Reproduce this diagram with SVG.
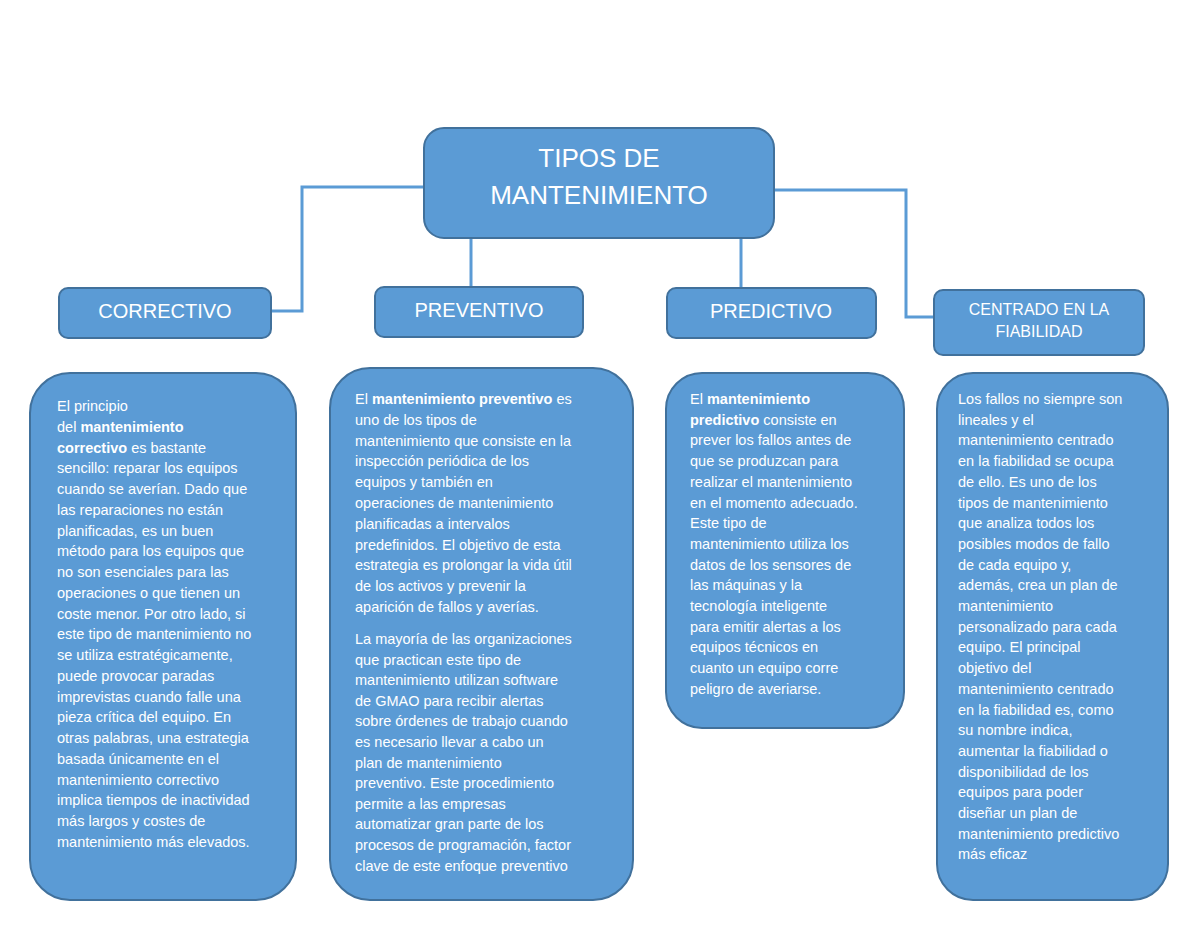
<svg xmlns="http://www.w3.org/2000/svg" width="1200" height="927" viewBox="0 0 1200 927">
<style>
.n{fill:#5B9BD5;stroke:#41719C;stroke-width:2}
.h{font-family:"Liberation Sans",Arial,sans-serif;fill:#fff;text-anchor:middle}
.t{font-family:"Liberation Sans",Arial,sans-serif;fill:#fff;font-size:14.5px}
.c{fill:none;stroke:#5B9BD5;stroke-width:3}
</style>
<rect width="1200" height="927" fill="#fff"/>
<g id="connectors">
<polyline class="c" points="424,187 302,187 302,311 271,311"/>
<line class="c" x1="471" y1="238" x2="471" y2="287"/>
<line class="c" x1="741" y1="238" x2="741" y2="288"/>
<polyline class="c" points="774,190 906,190 906,317 934,317"/>
</g>
<g id="root"><rect class="n" x="424" y="128" width="350" height="110" rx="20"/>
<text class="h" font-size="26" x="599" y="167">TIPOS DE</text><text class="h" font-size="26" x="599" y="204">MANTENIMIENTO</text></g>
<g id="correctivo"><rect class="n" x="59" y="288" width="212" height="50" rx="9"/><text class="h" font-size="20" x="165" y="318">CORRECTIVO</text></g>
<g id="preventivo"><rect class="n" x="375" y="287" width="208" height="50" rx="9"/><text class="h" font-size="20" x="479" y="317">PREVENTIVO</text></g>
<g id="predictivo"><rect class="n" x="667" y="288" width="209" height="50" rx="9"/><text class="h" font-size="20" x="771" y="318">PREDICTIVO</text></g>
<g id="centrado"><rect class="n" x="934" y="290" width="210" height="65" rx="9"/><text class="h" font-size="16" x="1039" y="315">CENTRADO EN LA</text><text class="h" font-size="16" x="1039" y="337">FIABILIDAD</text></g>
<g id="texto-correctivo"><rect class="n" x="30" y="373" width="266" height="527" rx="40"/>
<text class="t" x="57" y="411">
<tspan x="57" dy="0">El principio</tspan>
<tspan x="57" dy="20.75">del <tspan font-weight="bold">mantenimiento</tspan></tspan>
<tspan x="57" dy="20.75"><tspan font-weight="bold">correctivo</tspan> es bastante</tspan>
<tspan x="57" dy="20.75">sencillo: reparar los equipos</tspan>
<tspan x="57" dy="20.75">cuando se averían. Dado que</tspan>
<tspan x="57" dy="20.75">las reparaciones no están</tspan>
<tspan x="57" dy="20.75">planificadas, es un buen</tspan>
<tspan x="57" dy="20.75">método para los equipos que</tspan>
<tspan x="57" dy="20.75">no son esenciales para las</tspan>
<tspan x="57" dy="20.75">operaciones o que tienen un</tspan>
<tspan x="57" dy="20.75">coste menor. Por otro lado, si</tspan>
<tspan x="57" dy="20.75">este tipo de mantenimiento no</tspan>
<tspan x="57" dy="20.75">se utiliza estratégicamente,</tspan>
<tspan x="57" dy="20.75">puede provocar paradas</tspan>
<tspan x="57" dy="20.75">imprevistas cuando falle una</tspan>
<tspan x="57" dy="20.75">pieza crítica del equipo. En</tspan>
<tspan x="57" dy="20.75">otras palabras, una estrategia</tspan>
<tspan x="57" dy="20.75">basada únicamente en el</tspan>
<tspan x="57" dy="20.75">mantenimiento correctivo</tspan>
<tspan x="57" dy="20.75">implica tiempos de inactividad</tspan>
<tspan x="57" dy="20.75">más largos y costes de</tspan>
<tspan x="57" dy="20.75">mantenimiento más elevados.</tspan>
</text></g>
<g id="texto-preventivo"><rect class="n" x="330" y="368" width="303" height="532" rx="40"/>
<text class="t" x="355" y="404">
<tspan x="355" dy="0">El <tspan font-weight="bold">mantenimiento preventivo</tspan> es</tspan>
<tspan x="355" dy="20.8">uno de los tipos de</tspan>
<tspan x="355" dy="20.8">mantenimiento que consiste en la</tspan>
<tspan x="355" dy="20.8">inspección periódica de los</tspan>
<tspan x="355" dy="20.8">equipos y también en</tspan>
<tspan x="355" dy="20.8">operaciones de mantenimiento</tspan>
<tspan x="355" dy="20.8">planificadas a intervalos</tspan>
<tspan x="355" dy="20.8">predefinidos. El objetivo de esta</tspan>
<tspan x="355" dy="20.8">estrategia es prolongar la vida útil</tspan>
<tspan x="355" dy="20.8">de los activos y prevenir la</tspan>
<tspan x="355" dy="20.8">aparición de fallos y averías.</tspan>
<tspan x="355" dy="32">La mayoría de las organizaciones</tspan>
<tspan x="355" dy="20.6">que practican este tipo de</tspan>
<tspan x="355" dy="20.6">mantenimiento utilizan software</tspan>
<tspan x="355" dy="20.6">de GMAO para recibir alertas</tspan>
<tspan x="355" dy="20.6">sobre órdenes de trabajo cuando</tspan>
<tspan x="355" dy="20.6">es necesario llevar a cabo un</tspan>
<tspan x="355" dy="20.6">plan de mantenimiento</tspan>
<tspan x="355" dy="20.6">preventivo. Este procedimiento</tspan>
<tspan x="355" dy="20.6">permite a las empresas</tspan>
<tspan x="355" dy="20.6">automatizar gran parte de los</tspan>
<tspan x="355" dy="20.6">procesos de programación, factor</tspan>
<tspan x="355" dy="20.6">clave de este enfoque preventivo</tspan>
</text></g>
<g id="texto-predictivo"><rect class="n" x="666" y="373" width="238" height="355" rx="36"/>
<text class="t" x="690" y="404">
<tspan x="690" dy="0">El <tspan font-weight="bold">mantenimiento</tspan></tspan>
<tspan x="690" dy="20.7"><tspan font-weight="bold">predictivo</tspan> consiste en</tspan>
<tspan x="690" dy="20.7">prever los fallos antes de</tspan>
<tspan x="690" dy="20.7">que se produzcan para</tspan>
<tspan x="690" dy="20.7">realizar el mantenimiento</tspan>
<tspan x="690" dy="20.7">en el momento adecuado.</tspan>
<tspan x="690" dy="20.7">Este tipo de</tspan>
<tspan x="690" dy="20.7">mantenimiento utiliza los</tspan>
<tspan x="690" dy="20.7">datos de los sensores de</tspan>
<tspan x="690" dy="20.7">las máquinas y la</tspan>
<tspan x="690" dy="20.7">tecnología inteligente</tspan>
<tspan x="690" dy="20.7">para emitir alertas a los</tspan>
<tspan x="690" dy="20.7">equipos técnicos en</tspan>
<tspan x="690" dy="20.7">cuanto un equipo corre</tspan>
<tspan x="690" dy="20.7">peligro de averiarse.</tspan>
</text></g>
<g id="texto-centrado"><rect class="n" x="937" y="373" width="231" height="527" rx="36"/>
<text class="t" x="958" y="404">
<tspan x="958" dy="0">Los fallos no siempre son</tspan>
<tspan x="958" dy="20.7">lineales y el</tspan>
<tspan x="958" dy="20.7">mantenimiento centrado</tspan>
<tspan x="958" dy="20.7">en la fiabilidad se ocupa</tspan>
<tspan x="958" dy="20.7">de ello. Es uno de los</tspan>
<tspan x="958" dy="20.7">tipos de mantenimiento</tspan>
<tspan x="958" dy="20.7">que analiza todos los</tspan>
<tspan x="958" dy="20.7">posibles modos de fallo</tspan>
<tspan x="958" dy="20.7">de cada equipo y,</tspan>
<tspan x="958" dy="20.7">además, crea un plan de</tspan>
<tspan x="958" dy="20.7">mantenimiento</tspan>
<tspan x="958" dy="20.7">personalizado para cada</tspan>
<tspan x="958" dy="20.7">equipo. El principal</tspan>
<tspan x="958" dy="20.7">objetivo del</tspan>
<tspan x="958" dy="20.7">mantenimiento centrado</tspan>
<tspan x="958" dy="20.7">en la fiabilidad es, como</tspan>
<tspan x="958" dy="20.7">su nombre indica,</tspan>
<tspan x="958" dy="20.7">aumentar la fiabilidad o</tspan>
<tspan x="958" dy="20.7">disponibilidad de los</tspan>
<tspan x="958" dy="20.7">equipos para poder</tspan>
<tspan x="958" dy="20.7">diseñar un plan de</tspan>
<tspan x="958" dy="20.7">mantenimiento predictivo</tspan>
<tspan x="958" dy="20.7">más eficaz</tspan>
</text></g>
</svg>
